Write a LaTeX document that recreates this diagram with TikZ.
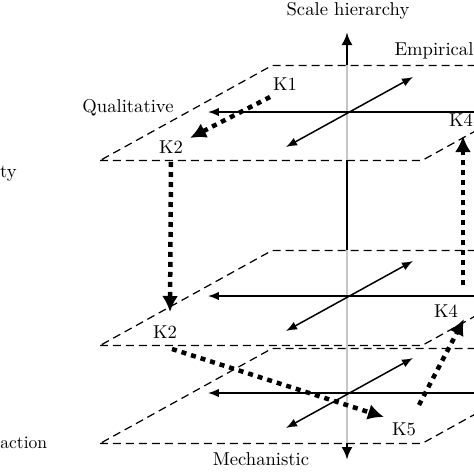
\documentclass[tikz,border=0pt]{standalone}
\usetikzlibrary{arrows.meta}
\begin{document}
\begin{tikzpicture}[x=0.02cm,y=-0.02cm,font=\fontsize{10.6}{12}\selectfont]
  \tikzstyle{every node}=[inner sep=0pt]
  \tikzstyle{plane}=[line width=0.7pt,dash pattern=on 0.16cm off 0.1cm]
  \tikzstyle{flow}=[line width=0.85pt,-{Latex[length=0.22cm,width=0.17cm]}]
  \tikzstyle{both}=[line width=0.85pt,{Latex[length=0.22cm,width=0.17cm]}-{Latex[length=0.22cm,width=0.17cm]}]
  \tikzstyle{axis}=[line width=0.85pt]
  \tikzstyle{jump}=[line width=0.09cm,dash pattern=on 0.1cm off 0.1cm,-{Latex[length=0.32cm,width=0.32cm]}]

  \useasboundingbox (0,0) rectangle (474,474);
  \clip (0,0) rectangle (474,474);

  % three levels
  \foreach \y in {160.5,345.5,443.5}
    \draw[plane] (100,\y) -- ++(322,0) -- ++(172,-95) -- ++(-322,0) -- cycle;

  % scale axis
  \coordinate (top) at (347,33);
  \coordinate (bot) at (347,459);
  \draw[gray!45,line width=0.75pt] (top) -- (bot);
  \draw[axis,-{Latex[length=0.24cm,width=0.22cm]}] (347,65) -- (top);
  \draw[axis] (347,160) -- (347,250);
  \draw[axis,-{Latex[length=0.24cm,width=0.22cm]}] (347,443) -- (bot);

  % arrows in each level
  \foreach \y in {112,296,393} {
    \draw[flow] (480,\y) -- (208,\y);
    \draw[both] (286,\y+35) -- (413,\y-35);
  }

  \node (scale) at (348,11) {Scale hierarchy};
  \node (emp) at (434,51) {Empirical};
  \node (qual) at (128,108) {Qualitative};
  \node (mech) at (261,459) {Mechanistic};
  \node[anchor=east] (cplx) at (17,174) {ty};
  \node[anchor=west,font=\fontsize{10}{12}\selectfont] (abst) at (0,443) {action};

  \node (k1) at (285,84) {K1};
  \node (k2) at (171,147) {K2};
  \node (k4) at (461,120) {K4};
  \node (k2b) at (165,332) {K2};
  \node (k4b) at (446,311) {K4};
  \node (k5) at (404,429) {K5};

  % knowledge moves
  \coordinate (a1) at (270,97);  \coordinate (a2) at (190,138);
  \coordinate (b1) at (171,162); \coordinate (b2) at (170,312);
  \coordinate (c1) at (463,285); \coordinate (c2) at (463,136);
  \coordinate (d1) at (172,349); \coordinate (d2) at (384,417);
  \coordinate (e1) at (419,405); \coordinate (e2) at (464,319);
  \draw[jump] (a1) -- (a2);
  \draw[jump] (b1) -- (b2);
  \draw[jump] (c1) -- (c2);
  \draw[jump] (d1) -- (d2);
  \draw[jump] (e1) -- (e2);
\end{tikzpicture}
\end{document}
